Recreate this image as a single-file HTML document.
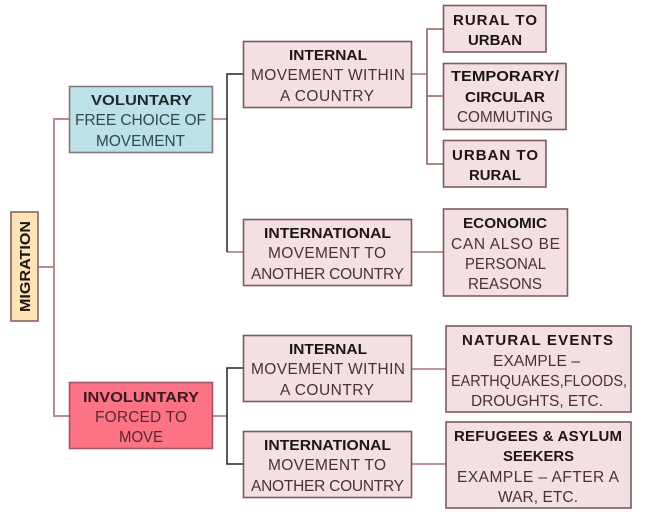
<!DOCTYPE html>
<html lang="en">
<head>
<meta charset="utf-8">
<title>Migration</title>
<style>
html,body{margin:0;padding:0;background:#fff;width:656px;height:522px;overflow:hidden}
svg{display:block;filter:blur(.25px)}
text{font-family:"Liberation Sans",sans-serif;font-size:15.5px;fill:#4b3034;stroke:none}
text.b{font-weight:bold;fill:#1e1517;font-size:15px}
.box{fill:#f3e0e2;stroke:#7d5a5f;stroke-width:1.6}
.c{fill:none;stroke:#a87176;stroke-width:1.6}
.k{fill:none;stroke:#2a2022;stroke-width:1.5}
</style>
</head>
<body>
<svg width="656" height="522" viewBox="0 0 656 522" xmlns="http://www.w3.org/2000/svg">
<!-- connectors -->
<path class="c" style="stroke:#bd8a8e;stroke-width:2" d="M38 267H54M69 119H54V416H69"/>
<path class="c" d="M212 119H227M212 416H227M227 252H243M412 252H443M412 369H446M412 464H446M412 74H427"/>
<path class="k" d="M243 74H227V252M243 368H227V464H243"/>
<path class="c" style="stroke:#8a6265" d="M443 29H427V164H443M427 96H443"/>

<!-- boxes -->
<rect x="11" y="212" width="27" height="109" fill="#fde3b6" stroke="#8a5f5f" stroke-width="1.6"/>
<rect x="69.500" y="86.500" width="143" height="66" fill="#bce1e6" stroke="#82797f" stroke-width="1.6"/>
<rect x="69.500" y="382.500" width="143" height="66" fill="#fb7385" stroke="#a6525f" stroke-width="1.6"/>
<rect class="box" x="243.500" y="41.500" width="168" height="66"/>
<rect class="box" x="243.500" y="219.500" width="168" height="66"/>
<rect class="box" x="243.500" y="335.500" width="168" height="66"/>
<rect class="box" x="243.500" y="431.500" width="168" height="66"/>
<rect class="box" x="443.500" y="5.500" width="102.500" height="46.500"/>
<rect class="box" x="443.500" y="63.500" width="122.500" height="66"/>
<rect class="box" x="443.500" y="140.500" width="102.500" height="46.500"/>
<rect class="box" x="443.500" y="209" width="124" height="87"/>
<rect class="box" x="446" y="326" width="185" height="86"/>
<rect class="box" x="446" y="422" width="185" height="86"/>

<!-- labels -->
<text class="b" transform="translate(30 312) rotate(-90)" textLength="91" lengthAdjust="spacingAndGlyphs">MIGRATION</text>

<text class="b" x="91" y="105" textLength="101" lengthAdjust="spacingAndGlyphs" style="fill:#1f2a2e">VOLUNTARY</text>
<text x="75" y="125" textLength="131" lengthAdjust="spacing" style="fill:#2f4a50">FREE CHOICE OF</text>
<text x="96" y="146" textLength="89" lengthAdjust="spacingAndGlyphs" style="fill:#2f4a50">MOVEMENT</text>

<text class="b" x="83" y="402" textLength="116" lengthAdjust="spacingAndGlyphs" style="fill:#3a1a20">INVOLUNTARY</text>
<text x="95" y="422" textLength="92" lengthAdjust="spacing" style="fill:#5c2630">FORCED TO</text>
<text x="119" y="442" textLength="44" lengthAdjust="spacingAndGlyphs" style="fill:#5c2630">MOVE</text>

<text class="b" x="289" y="60" textLength="78" lengthAdjust="spacingAndGlyphs">INTERNAL</text>
<text x="251" y="80" textLength="154" lengthAdjust="spacing">MOVEMENT WITHIN</text>
<text x="280" y="101" textLength="94" lengthAdjust="spacing">A COUNTRY</text>

<text class="b" x="264" y="238" textLength="127" lengthAdjust="spacingAndGlyphs">INTERNATIONAL</text>
<text x="268" y="258" textLength="118" lengthAdjust="spacing">MOVEMENT TO</text>
<text x="251" y="279" textLength="153" lengthAdjust="spacing">ANOTHER COUNTRY</text>

<text class="b" x="289" y="354" textLength="78" lengthAdjust="spacingAndGlyphs">INTERNAL</text>
<text x="251" y="374" textLength="154" lengthAdjust="spacing">MOVEMENT WITHIN</text>
<text x="280" y="395" textLength="94" lengthAdjust="spacing">A COUNTRY</text>

<text class="b" x="264" y="450" textLength="127" lengthAdjust="spacingAndGlyphs">INTERNATIONAL</text>
<text x="268" y="470" textLength="118" lengthAdjust="spacing">MOVEMENT TO</text>
<text x="251" y="491" textLength="153" lengthAdjust="spacing">ANOTHER COUNTRY</text>

<text class="b" x="453" y="25" textLength="84" lengthAdjust="spacing">RURAL TO</text>
<text class="b" x="468" y="45" textLength="54" lengthAdjust="spacingAndGlyphs">URBAN</text>

<text class="b" x="451" y="81" textLength="108" lengthAdjust="spacingAndGlyphs">TEMPORARY/</text>
<text class="b" x="465" y="102" textLength="80" lengthAdjust="spacingAndGlyphs">CIRCULAR</text>
<text x="457" y="122" textLength="96" lengthAdjust="spacingAndGlyphs">COMMUTING</text>

<text class="b" x="452" y="160" textLength="86" lengthAdjust="spacing">URBAN TO</text>
<text class="b" x="469" y="180" textLength="52" lengthAdjust="spacingAndGlyphs">RURAL</text>

<text class="b" x="463" y="228" textLength="84" lengthAdjust="spacingAndGlyphs">ECONOMIC</text>
<text x="451" y="249" textLength="109" lengthAdjust="spacing">CAN ALSO BE</text>
<text x="465" y="269" textLength="81" lengthAdjust="spacingAndGlyphs">PERSONAL</text>
<text x="468" y="289" textLength="74" lengthAdjust="spacingAndGlyphs">REASONS</text>

<text class="b" x="462" y="345" textLength="151" lengthAdjust="spacing">NATURAL EVENTS</text>
<text x="493" y="366" textLength="87" lengthAdjust="spacing">EXAMPLE –</text>
<text x="451" y="386" textLength="176" lengthAdjust="spacingAndGlyphs">EARTHQUAKES,FLOODS,</text>
<text x="471" y="406" textLength="132" lengthAdjust="spacing">DROUGHTS, ETC.</text>

<text class="b" x="454" y="441" textLength="168" lengthAdjust="spacing">REFUGEES &amp; ASYLUM</text>
<text class="b" x="503" y="461" textLength="71" lengthAdjust="spacingAndGlyphs">SEEKERS</text>
<text x="457" y="482" textLength="162" lengthAdjust="spacing">EXAMPLE – AFTER A</text>
<text x="498" y="502" textLength="80" lengthAdjust="spacing">WAR, ETC.</text>
</svg>
</body>
</html>
